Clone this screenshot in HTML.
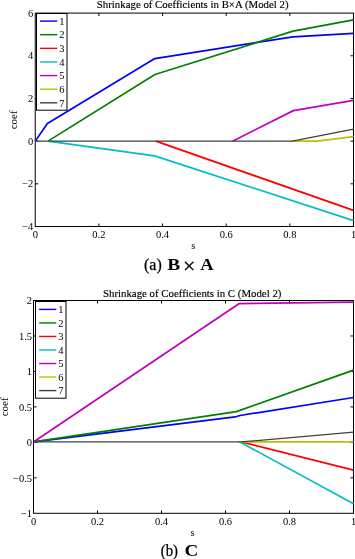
<!DOCTYPE html>
<html lang="en">
<head>
<meta charset="utf-8">
<title>Shrinkage of Coefficients</title>
<style>
html,body{margin:0;padding:0;background:#fff;}
body{width:355px;height:559px;overflow:hidden;}
svg{display:block;}
text{font-family:"Liberation Serif", serif;fill:#000;}
.t{font-size:10.5px;}
.tt{font-size:10.8px;stroke:#000;stroke-width:0.15;}
.cap{font-size:16px;stroke:#000;stroke-width:0.25;}
.capb{font-size:16px;font-weight:bold;}
.ln{fill:none;stroke-width:1.7;stroke-linejoin:round;}
.ax{fill:none;stroke:#000;stroke-width:1;}
.lg{fill:#fff;stroke:#000;stroke-width:1;}
.ll{stroke-width:1.4;}
</style>
</head>
<body>
<svg width="355" height="559" viewBox="0 0 355 559">
<rect width="355" height="559" fill="#fff"/>
<g>
<rect class="ax" x="35.25" y="13.1" width="318.25" height="213.4"/>
<path class="ax" d="M98.9,226.5 v-3 M98.9,13.1 v3 M162.55,226.5 v-3 M162.55,13.1 v3 M226.2,226.5 v-3 M226.2,13.1 v3 M289.85,226.5 v-3 M289.85,13.1 v3 M35.25,55.78 h3 M353.5,55.78 h-3 M35.25,98.46 h3 M353.5,98.46 h-3 M35.25,141.14 h3 M353.5,141.14 h-3 M35.25,183.82 h3 M353.5,183.82 h-3"/>
<path class="ln" stroke="#0000ff" d="M35.25,141.14 L47.41,123.43 L154.82,58.55 L293.03,36.79 L353.5,33.37"/>
<path class="ln" stroke="#008000" d="M47.98,141.14 L154.91,74.56 L293.03,31.13 L353.5,19.93"/>
<path class="ln" stroke="#ff0000" d="M155.87,141.14 L353.5,210.39"/>
<path class="ln" stroke="#00bfbf" d="M47.98,141.14 L154.59,155.86 L353.5,220.63"/>
<path class="ln" stroke="#bf00bf" d="M232.56,141.14 L293.35,110.62 L353.5,100.38"/>
<path class="ln" stroke="#bfbf00" d="M291.44,141.14 L316.9,141.14 L353.5,136.66"/>
<path class="ln" stroke="#404040" style="stroke-width:1.3" d="M35.25,141.14 L292.4,141.14 L353.5,129.13"/>
<text class="t" x="35.25" y="238" text-anchor="middle">0</text>
<text class="t" x="98.9" y="238" text-anchor="middle">0.2</text>
<text class="t" x="162.55" y="238" text-anchor="middle">0.4</text>
<text class="t" x="226.2" y="238" text-anchor="middle">0.6</text>
<text class="t" x="289.85" y="238" text-anchor="middle">0.8</text>
<text class="t" x="353.5" y="238" text-anchor="middle">1</text>
<text class="t" x="33.3" y="16.7" text-anchor="end">6</text>
<text class="t" x="33.3" y="59.38" text-anchor="end">4</text>
<text class="t" x="33.3" y="102.06" text-anchor="end">2</text>
<text class="t" x="33.3" y="144.74" text-anchor="end">0</text>
<text class="t" x="33.3" y="187.42" text-anchor="end">−2</text>
<text class="t" x="33.3" y="230.1" text-anchor="end">−4</text>
<text class="t" x="193.38" y="248.8" text-anchor="middle">s</text>
<text class="t" style="font-size:11px" transform="translate(17,119.8) rotate(-90)" text-anchor="middle">coef</text>
<text class="t tt" x="96.8" y="7.6" textLength="191.7" lengthAdjust="spacingAndGlyphs">Shrinkage of Coefficients in B×A (Model 2)</text>
<rect class="lg" x="36.5" y="13.5" width="30.5" height="96.7"/>
<path class="ll" stroke="#0000ff" d="M40,21.1 H57.3"/><text class="t" x="59.3" y="24.8">1</text>
<path class="ll" stroke="#008000" d="M40,34.72 H57.3"/><text class="t" x="59.3" y="38.42">2</text>
<path class="ll" stroke="#ff0000" d="M40,48.34 H57.3"/><text class="t" x="59.3" y="52.04">3</text>
<path class="ll" stroke="#00bfbf" d="M40,61.96 H57.3"/><text class="t" x="59.3" y="65.66">4</text>
<path class="ll" stroke="#bf00bf" d="M40,75.58 H57.3"/><text class="t" x="59.3" y="79.28">5</text>
<path class="ll" stroke="#bfbf00" d="M40,89.2 H57.3"/><text class="t" x="59.3" y="92.9">6</text>
<path class="ll" stroke="#404040" d="M40,102.82 H57.3"/><text class="t" x="59.3" y="106.52">7</text>
</g>
<text class="cap" x="144" y="269.6">(a)</text>
<text class="capb" x="167.3" y="269.6" textLength="13" lengthAdjust="spacingAndGlyphs">B</text>
<text x="182.9" y="272.8" style="font-size:22px;stroke:#000;stroke-width:0.3">×</text>
<text class="capb" x="200.2" y="269.6" textLength="13.4" lengthAdjust="spacingAndGlyphs">A</text>
<g>
<rect class="ax" x="33.5" y="300.5" width="320" height="212.8"/>
<path class="ax" d="M97.5,513.3 v-3 M97.5,300.5 v3 M161.5,513.3 v-3 M161.5,300.5 v3 M225.5,513.3 v-3 M225.5,300.5 v3 M289.5,513.3 v-3 M289.5,300.5 v3 M33.5,335.97 h3 M353.5,335.97 h-3 M33.5,371.43 h3 M353.5,371.43 h-3 M33.5,406.9 h3 M353.5,406.9 h-3 M33.5,442.37 h3 M353.5,442.37 h-3 M33.5,477.83 h3 M353.5,477.83 h-3"/>
<path class="ln" stroke="#0000ff" d="M33.5,441.92 L235.1,416.95 L239.9,415.53 L353.5,397.51"/>
<path class="ln" stroke="#008000" d="M33.5,441.92 L236.38,411.63 L353.5,370.13"/>
<path class="ln" stroke="#ff0000" d="M241.5,441.92 L353.5,470.08"/>
<path class="ln" stroke="#00bfbf" d="M239.9,441.92 L353.5,503.77"/>
<path class="ln" stroke="#bf00bf" d="M33.5,441.92 L239.26,303.53 L353.5,302.18"/>
<path class="ln" stroke="#bfbf00" style="stroke-width:1.75" d="M238.3,441.92 L353.5,441.92"/>
<path class="ln" stroke="#404040" style="stroke-width:1.3" d="M33.5,441.92 L241.5,441.92 L353.5,432.2"/>
<text class="t" x="33.5" y="524.5" text-anchor="middle">0</text>
<text class="t" x="97.5" y="524.5" text-anchor="middle">0.2</text>
<text class="t" x="161.5" y="524.5" text-anchor="middle">0.4</text>
<text class="t" x="225.5" y="524.5" text-anchor="middle">0.6</text>
<text class="t" x="289.5" y="524.5" text-anchor="middle">0.8</text>
<text class="t" x="353.5" y="524.5" text-anchor="middle">1</text>
<text class="t" x="32.1" y="304.4" text-anchor="end">2</text>
<text class="t" x="32.1" y="339.87" text-anchor="end">1.5</text>
<text class="t" x="32.1" y="375.33" text-anchor="end">1</text>
<text class="t" x="32.1" y="410.8" text-anchor="end">0.5</text>
<text class="t" x="32.1" y="446.27" text-anchor="end">0</text>
<text class="t" x="32.1" y="481.73" text-anchor="end">−0.5</text>
<text class="t" x="32.1" y="517.2" text-anchor="end">−1</text>
<text class="t" x="192.5" y="535.8" text-anchor="middle">s</text>
<text class="t" style="font-size:11px" transform="translate(7.6,406.9) rotate(-90)" text-anchor="middle">coef</text>
<text class="t tt" x="103" y="296.7" textLength="178.4" lengthAdjust="spacingAndGlyphs">Shrinkage of Coefficients in C (Model 2)</text>
<rect class="lg" x="35.5" y="301.5" width="30.5" height="96.7"/>
<path class="ll" stroke="#0000ff" d="M39.1,309.4 H56.3"/><text class="t" x="58.3" y="313.1">1</text>
<path class="ll" stroke="#008000" d="M39.1,322.93 H56.3"/><text class="t" x="58.3" y="326.63">2</text>
<path class="ll" stroke="#ff0000" d="M39.1,336.46 H56.3"/><text class="t" x="58.3" y="340.16">3</text>
<path class="ll" stroke="#00bfbf" d="M39.1,349.99 H56.3"/><text class="t" x="58.3" y="353.69">4</text>
<path class="ll" stroke="#bf00bf" d="M39.1,363.52 H56.3"/><text class="t" x="58.3" y="367.22">5</text>
<path class="ll" stroke="#bfbf00" d="M39.1,377.05 H56.3"/><text class="t" x="58.3" y="380.75">6</text>
<path class="ll" stroke="#404040" d="M39.1,390.58 H56.3"/><text class="t" x="58.3" y="394.28">7</text>
</g>
<text class="cap" x="160.8" y="556.4" textLength="17.2" lengthAdjust="spacingAndGlyphs">(b)</text>
<text class="capb" x="184.4" y="556.4" textLength="13.8" lengthAdjust="spacingAndGlyphs">C</text>
</svg>
</body>
</html>
